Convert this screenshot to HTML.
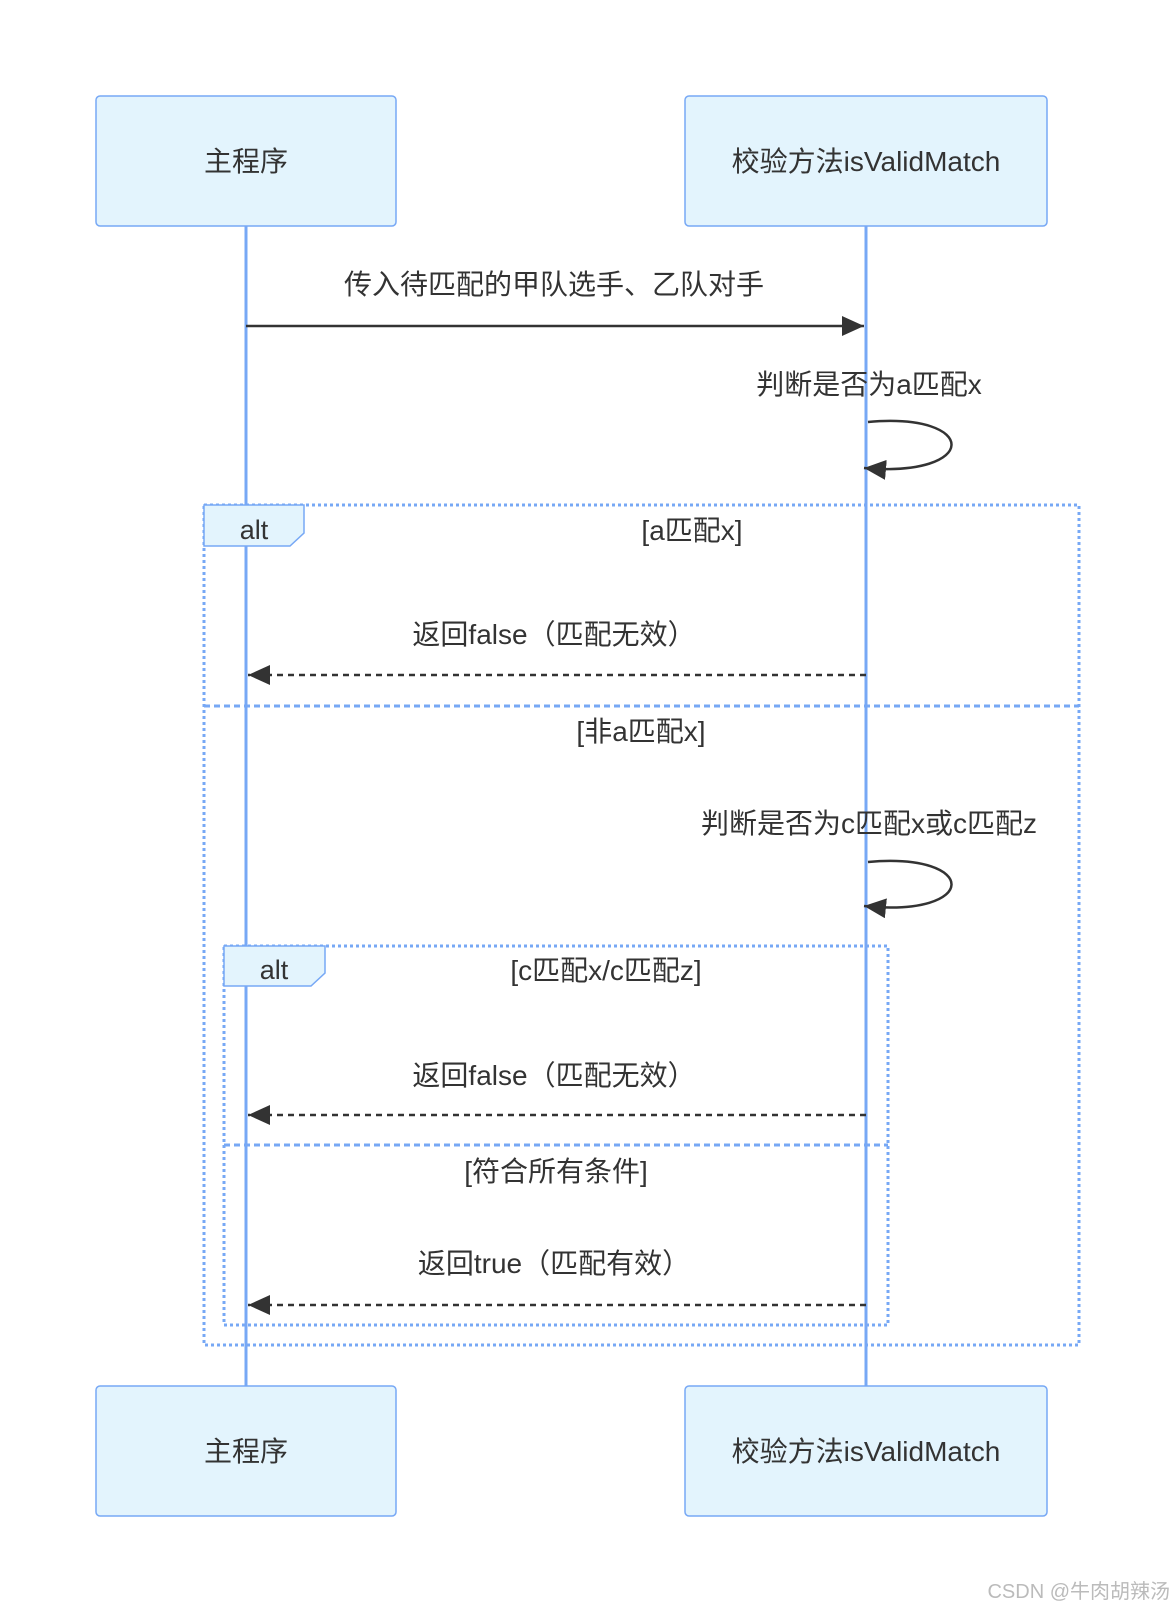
<!DOCTYPE html>
<html><head><meta charset="utf-8"><style>
html,body{margin:0;padding:0;background:#fff;}
svg text{font-family:"Liberation Sans","Noto Sans CJK SC",sans-serif;fill:#333;}
</style></head><body>
<svg width="1176" height="1612" viewBox="0 0 1176 1612" xmlns="http://www.w3.org/2000/svg">
<defs>
<marker id="ah" markerWidth="12" markerHeight="12" refX="11" refY="6" orient="auto" markerUnits="userSpaceOnUse">
<path d="M0,0 L12,6 L0,12 z" fill="#333"/></marker>
<marker id="ah2" markerWidth="24" markerHeight="20" refX="22" refY="10" orient="auto" markerUnits="userSpaceOnUse">
<path d="M0,0 L22,10 L0,20 z" fill="#333"/></marker>
</defs>
<!-- lifelines -->
<line x1="246" y1="226" x2="246" y2="1386" stroke="#77a8f5" stroke-width="3"/>
<line x1="866" y1="226" x2="866" y2="1386" stroke="#77a8f5" stroke-width="3"/>
<!-- boxes -->
<g fill="#e3f4fd" stroke="#77a8f5" stroke-width="1.5">
<rect x="96" y="96" width="300" height="130" rx="4"/>
<rect x="685" y="96" width="362" height="130" rx="4"/>
<rect x="96" y="1386" width="300" height="130" rx="4"/>
<rect x="685" y="1386" width="362" height="130" rx="4"/>
</g>
<g font-size="28" text-anchor="middle">
<text x="246" y="171">主程序</text>
<text x="866" y="171">校验方法isValidMatch</text>
<text x="246" y="1461">主程序</text>
<text x="866" y="1461">校验方法isValidMatch</text>
</g>
<!-- message 1 -->
<text x="554" y="294" font-size="28" text-anchor="middle">传入待匹配的甲队选手、乙队对手</text>
<line x1="246" y1="326" x2="864" y2="326" stroke="#333" stroke-width="2.5" marker-end="url(#ah2)"/>
<!-- self 1 -->
<text x="869" y="394" font-size="28" text-anchor="middle">判断是否为a匹配x</text>
<path d="M868,422 C980,412 980,478 864,468" fill="none" stroke="#333" stroke-width="2.5" marker-end="url(#ah2)"/>
<!-- outer alt -->
<rect x="204" y="505" width="875" height="840" fill="none" stroke="#77a8f5" stroke-width="3" stroke-dasharray="3,3"/>
<path d="M204,505 L304,505 L304,533 L290,546 L204,546 z" fill="#e3f4fd" stroke="#77a8f5" stroke-width="1.5"/>
<text x="254" y="539" font-size="27" text-anchor="middle">alt</text>
<text x="692" y="540" font-size="28" text-anchor="middle">[a匹配x]</text>
<text x="554" y="644" font-size="28" text-anchor="middle">返回false（匹配无效）</text>
<line x1="866" y1="675" x2="248" y2="675" stroke="#333" stroke-width="2.5" stroke-dasharray="6,5" marker-end="url(#ah2)"/>
<line x1="204" y1="706" x2="1079" y2="706" stroke="#77a8f5" stroke-width="3" stroke-dasharray="6,4"/>
<text x="641" y="741" font-size="28" text-anchor="middle">[非a匹配x]</text>
<!-- self 2 -->
<text x="869" y="833" font-size="28" text-anchor="middle">判断是否为c匹配x或c匹配z</text>
<path d="M868,862 C980,852 980,918 864,906" fill="none" stroke="#333" stroke-width="2.5" marker-end="url(#ah2)"/>
<!-- inner alt -->
<rect x="224" y="946" width="664" height="379" fill="none" stroke="#77a8f5" stroke-width="3" stroke-dasharray="3,3"/>
<path d="M224,946 L325,946 L325,973 L311,986 L224,986 z" fill="#e3f4fd" stroke="#77a8f5" stroke-width="1.5"/>
<text x="274" y="979" font-size="27" text-anchor="middle">alt</text>
<text x="606" y="980" font-size="28" text-anchor="middle">[c匹配x/c匹配z]</text>
<text x="554" y="1085" font-size="28" text-anchor="middle">返回false（匹配无效）</text>
<line x1="866" y1="1115" x2="248" y2="1115" stroke="#333" stroke-width="2.5" stroke-dasharray="6,5" marker-end="url(#ah2)"/>
<line x1="224" y1="1145" x2="888" y2="1145" stroke="#77a8f5" stroke-width="3" stroke-dasharray="6,4"/>
<text x="556" y="1181" font-size="28" text-anchor="middle">[符合所有条件]</text>
<text x="554" y="1273" font-size="28" text-anchor="middle">返回true（匹配有效）</text>
<line x1="866" y1="1305" x2="248" y2="1305" stroke="#333" stroke-width="2.5" stroke-dasharray="6,5" marker-end="url(#ah2)"/>
<text x="1170" y="1598" font-size="20" text-anchor="end" style="fill:#bbb">CSDN @牛肉胡辣汤</text>
</svg>
</body></html>
